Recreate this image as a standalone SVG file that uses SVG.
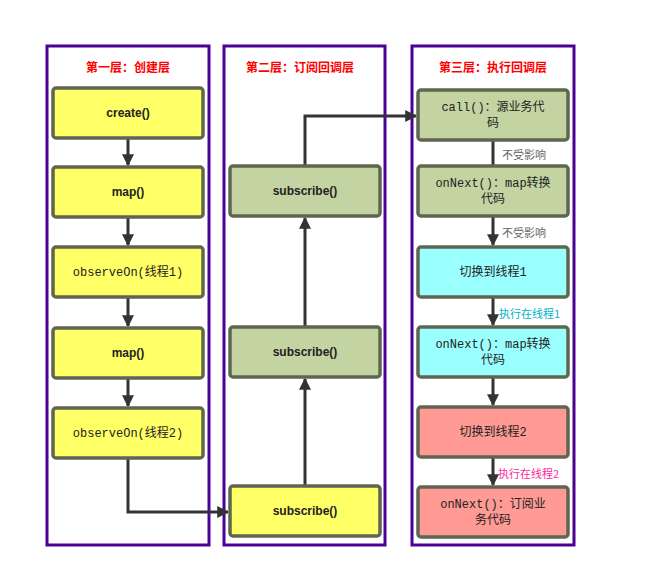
<svg xmlns="http://www.w3.org/2000/svg" width="646" height="576" viewBox="0 0 646 576">
<defs>
<marker id="ah" viewBox="0 0 10 10" refX="9" refY="5" markerWidth="4" markerHeight="4" orient="auto"><path d="M0,0 L10,5 L0,10 z" fill="#333"/></marker>
<style>
.col{fill:#fff;stroke:#4b0096;stroke-width:3}
.n{stroke:#5f6650;stroke-width:3.5}
.y{fill:#ffff66}.g{fill:#c3d4a2}.c{fill:#99ffff}.p{fill:#ff9a94}
.t{font-family:"Liberation Sans","Noto Sans CJK SC",sans-serif;font-size:12px;font-weight:bold;fill:#222;text-anchor:middle}
.m{font-family:"Liberation Mono","Noto Sans CJK SC",monospace;font-size:12px;fill:#222;text-anchor:middle}
.h{font-family:"Noto Sans CJK SC",sans-serif;font-size:12px;font-weight:bold;fill:#ff0000;text-anchor:middle}
.l{font-family:"Noto Sans CJK SC",sans-serif;font-size:11px}
.e{fill:none;stroke:#333;stroke-width:3;marker-end:url(#ah)}
</style>
</defs>
<rect width="646" height="576" fill="#fff"/>
<g id="col1"><rect class="col" x="47" y="46" width="162" height="499"/><text class="h" x="128" y="72">第一层：创建层</text></g>
<g id="col2"><rect class="col" x="224" y="46" width="161" height="499"/><text class="h" x="300" y="72">第二层：订阅回调层</text></g>
<g id="col3"><rect class="col" x="412" y="46" width="162" height="499"/><text class="h" x="493" y="72">第三层：执行回调层</text></g>
<g id="connectors">
<line class="e" x1="128" y1="139" x2="128" y2="165"/>
<line class="e" x1="128" y1="218" x2="128" y2="245"/>
<line class="e" x1="128" y1="298" x2="128" y2="326"/>
<line class="e" x1="128" y1="379" x2="128" y2="406"/>
<polyline class="e" points="128,459 128,512 228,512"/>
<line class="e" x1="305" y1="485" x2="305" y2="379"/>
<line class="e" x1="305" y1="326" x2="305" y2="218"/>
<polyline class="e" points="305,165 305,116 416,116"/>
<line stroke="#333" stroke-width="3" x1="493" y1="141" x2="493" y2="165"/>
<line class="e" x1="493" y1="217" x2="493" y2="245"/>
<line class="e" x1="493" y1="298" x2="493" y2="325"/>
<line class="e" x1="493" y1="378" x2="493" y2="405"/>
<line class="e" x1="493" y1="458" x2="493" y2="485"/>
<text class="l" x="502" y="159" fill="#666">不受影响</text>
<text class="l" x="502" y="237" fill="#666">不受影响</text>
<text class="l" x="499" y="318" fill="#00b4c8">执行在线程1</text>
<text class="l" x="498" y="478" fill="#ff2a9a">执行在线程2</text>
</g>
<g id="create"><rect class="n y" x="53" y="88" width="150" height="50" rx="3"/><text class="t" x="128" y="117">create()</text></g>
<g id="map1"><rect class="n y" x="53" y="167" width="150" height="50" rx="3"/><text class="t" x="128" y="196">map()</text></g>
<g id="obs1"><rect class="n y" x="53" y="247" width="150" height="50" rx="3"/><text class="m" x="128" y="276">observeOn(线程1)</text></g>
<g id="map2"><rect class="n y" x="53" y="328" width="150" height="50" rx="3"/><text class="t" x="128" y="357">map()</text></g>
<g id="obs2"><rect class="n y" x="53" y="408" width="150" height="50" rx="3"/><text class="m" x="128" y="437">observeOn(线程2)</text></g>
<g id="sub1"><rect class="n g" x="230" y="166" width="150" height="50" rx="3"/><text class="t" x="305" y="195">subscribe()</text></g>
<g id="sub2"><rect class="n g" x="230" y="327" width="150" height="50" rx="3"/><text class="t" x="305" y="356">subscribe()</text></g>
<g id="sub3"><rect class="n y" x="230" y="486" width="150" height="50" rx="3"/><text class="t" x="305" y="515">subscribe()</text></g>
<g id="call"><rect class="n g" x="418" y="90" width="150" height="50" rx="3"/><text class="m" x="493" y="111">call()：源业务代</text><text class="m" x="493" y="127">码</text></g>
<g id="onnext1"><rect class="n g" x="418" y="166" width="150" height="50" rx="3"/><text class="m" x="493" y="187">onNext()：map转换</text><text class="m" x="493" y="203">代码</text></g>
<g id="sw1"><rect class="n c" x="418" y="247" width="150" height="50" rx="3"/><text class="m" x="493" y="276">切换到线程1</text></g>
<g id="onnext2"><rect class="n c" x="418" y="327" width="150" height="50" rx="3"/><text class="m" x="493" y="348">onNext()：map转换</text><text class="m" x="493" y="364">代码</text></g>
<g id="sw2"><rect class="n p" x="418" y="407" width="150" height="50" rx="3"/><text class="m" x="493" y="436">切换到线程2</text></g>
<g id="onnext3"><rect class="n p" x="418" y="487" width="150" height="50" rx="3"/><text class="m" x="493" y="508">onNext()：订阅业</text><text class="m" x="493" y="524">务代码</text></g>
</svg>
